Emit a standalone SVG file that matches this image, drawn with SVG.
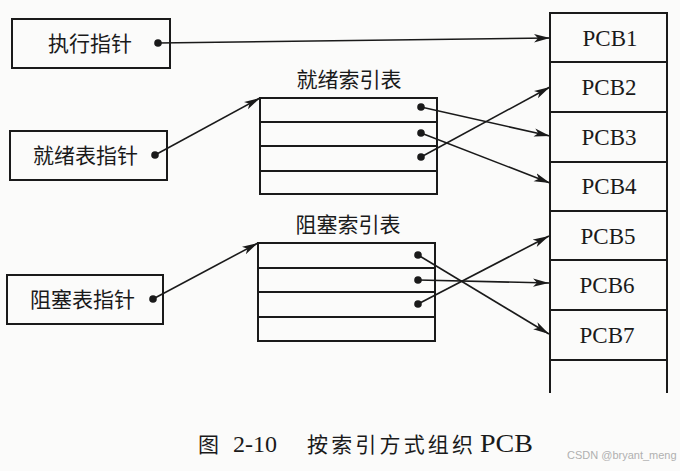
<svg xmlns="http://www.w3.org/2000/svg" width="680" height="471" viewBox="0 0 680 471">
<style>
.bx{fill:none;stroke:#1a1a1a;stroke-width:2}
.ln{stroke:#1a1a1a;stroke-width:2}
.cn{fill:none;stroke:#1a1a1a;stroke-width:1.6}
.zh{font-family:"Noto Sans CJK SC","Noto Sans CJK JP",sans-serif;font-size:21px;fill:#1a1a1a}
.pcb{font-family:"Liberation Serif",serif;font-size:23px;fill:#1a1a1a;text-anchor:middle}
.dot{fill:#1a1a1a}
</style>
<defs>
<marker id="ah" markerUnits="userSpaceOnUse" markerWidth="18" markerHeight="10" refX="16" refY="5" orient="auto">
<path d="M0,0.8 L16,5 L0,9.2 L4,5 z" fill="#1a1a1a"/>
</marker>
</defs>
<rect width="680" height="471" fill="#fbfbfa"/>
<g id="exec-ptr">
<rect class="bx" x="12" y="19" width="158" height="49"/>
<text class="zh" x="48" y="51">执行指针</text>
<circle class="dot" cx="158" cy="43" r="3.8"/>
</g>
<g id="ready-ptr">
<rect class="bx" x="10" y="131" width="157" height="49"/>
<text class="zh" x="33" y="163">就绪表指针</text>
<circle class="dot" cx="155" cy="155" r="3.8"/>
</g>
<g id="block-ptr">
<rect class="bx" x="7" y="275" width="156" height="49"/>
<text class="zh" x="30" y="307">阻塞表指针</text>
<circle class="dot" cx="153" cy="299" r="3.8"/>
</g>
<g id="ready-index">
<text class="zh" x="349" y="87" text-anchor="middle">就绪索引表</text>
<rect class="bx" x="260" y="98" width="177" height="96"/>
<line class="ln" x1="260" y1="122" x2="437" y2="122"/>
<line class="ln" x1="260" y1="146" x2="437" y2="146"/>
<line class="ln" x1="260" y1="171" x2="437" y2="171"/>
<circle class="dot" cx="421" cy="107" r="3.8"/>
<circle class="dot" cx="421" cy="133" r="3.8"/>
<circle class="dot" cx="421" cy="157" r="3.8"/>
</g>
<g id="block-index">
<text class="zh" x="348" y="232" text-anchor="middle">阻塞索引表</text>
<rect class="bx" x="258" y="243" width="177" height="98"/>
<line class="ln" x1="258" y1="268" x2="435" y2="268"/>
<line class="ln" x1="258" y1="292" x2="435" y2="292"/>
<line class="ln" x1="258" y1="317" x2="435" y2="317"/>
<circle class="dot" cx="418" cy="255" r="3.8"/>
<circle class="dot" cx="418" cy="280" r="3.8"/>
<circle class="dot" cx="418" cy="304" r="3.8"/>
</g>
<g id="pcb-table">
<line class="ln" x1="550" y1="13" x2="550" y2="393"/>
<line class="ln" x1="667" y1="13" x2="667" y2="393"/>
<line class="ln" x1="549" y1="13" x2="668" y2="13"/>
<line class="ln" x1="550" y1="62" x2="667" y2="62"/>
<line class="ln" x1="550" y1="112" x2="667" y2="112"/>
<line class="ln" x1="550" y1="162" x2="667" y2="162"/>
<line class="ln" x1="550" y1="211" x2="667" y2="211"/>
<line class="ln" x1="550" y1="260" x2="667" y2="260"/>
<line class="ln" x1="550" y1="310" x2="667" y2="310"/>
<line class="ln" x1="550" y1="360" x2="667" y2="360"/>
<text class="pcb" x="610" y="46">PCB1</text>
<text class="pcb" x="609" y="95">PCB2</text>
<text class="pcb" x="609" y="145">PCB3</text>
<text class="pcb" x="609" y="194">PCB4</text>
<text class="pcb" x="608" y="244">PCB5</text>
<text class="pcb" x="607" y="293">PCB6</text>
<text class="pcb" x="607" y="343">PCB7</text>
</g>
<g id="connectors">
<line class="cn" x1="158" y1="43" x2="550" y2="38" marker-end="url(#ah)"/>
<line class="cn" x1="155" y1="155" x2="260" y2="98" marker-end="url(#ah)"/>
<line class="cn" x1="153" y1="299" x2="258" y2="243" marker-end="url(#ah)"/>
<line class="cn" x1="421" y1="107" x2="550" y2="136" marker-end="url(#ah)"/>
<line class="cn" x1="421" y1="133" x2="550" y2="183" marker-end="url(#ah)"/>
<line class="cn" x1="421" y1="157" x2="550" y2="87" marker-end="url(#ah)"/>
<line class="cn" x1="418" y1="255" x2="549" y2="334" marker-end="url(#ah)"/>
<line class="cn" x1="418" y1="280" x2="549" y2="283" marker-end="url(#ah)"/>
<line class="cn" x1="418" y1="304" x2="549" y2="236" marker-end="url(#ah)"/>
</g>
<g id="caption">
<text class="zh" x="198" y="452" font-size="23">图</text>
<text x="233" y="452" font-family="Liberation Serif,serif" font-size="24" fill="#1a1a1a">2-10</text>
<text class="zh" x="307" y="452" font-size="24" textLength="166" lengthAdjust="spacing">按索引方式组织</text>
<text x="480" y="452" font-family="Liberation Serif,serif" font-size="25" fill="#1a1a1a" textLength="53" lengthAdjust="spacingAndGlyphs">PCB</text>
<text x="567" y="459" font-family="Liberation Sans,sans-serif" font-size="11" fill="#b0b0b0">CSDN @bryant_meng</text>
</g>
</svg>
